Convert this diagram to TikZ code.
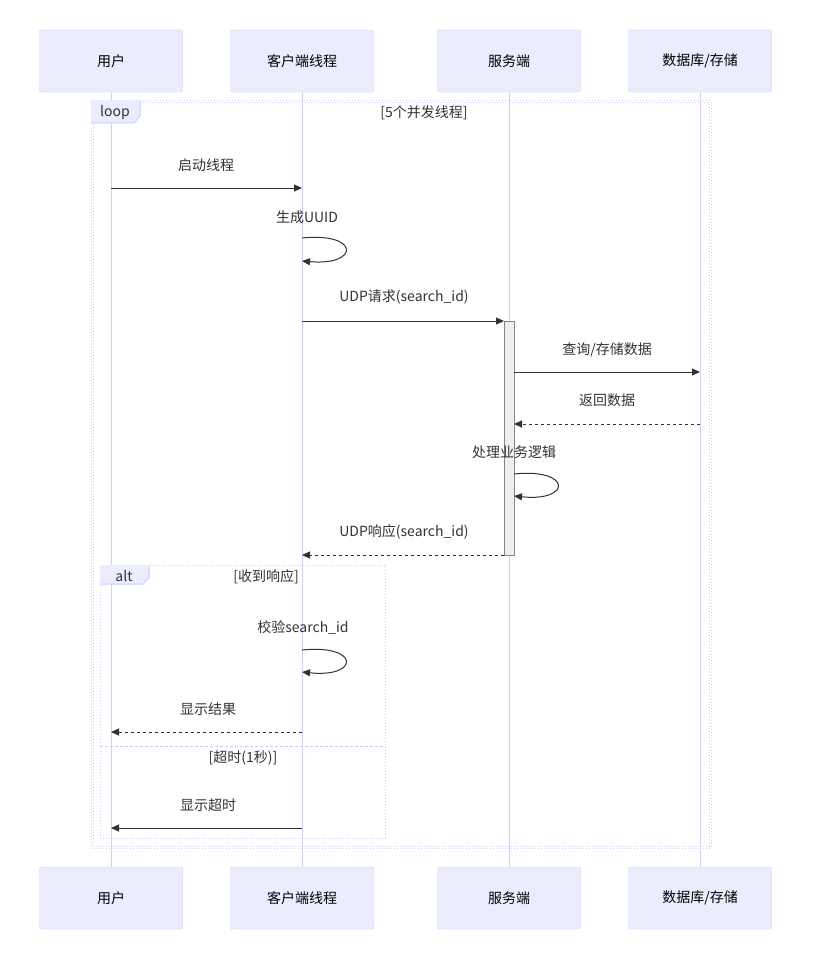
\documentclass[tikz,border=0pt]{standalone}
\usepackage{fontspec}
\setmainfont{Noto Sans CJK SC}
\usetikzlibrary{arrows.meta}
\definecolor{actfill}{HTML}{ECECFF}
\definecolor{actline}{HTML}{CCCCFF}
\definecolor{life}{HTML}{D6D0F0}
\definecolor{ink}{HTML}{333333}
\begin{document}
\begin{tikzpicture}[x=1pt,y=-1pt,
 actor/.style={draw=actline,fill=actfill,minimum width=143pt,minimum height=62pt,rounded corners=2pt,font=\fontsize{14}{16}\selectfont,text=black},
 lbl/.style={font=\fontsize{14}{16}\selectfont,text=ink},
 msg/.style={draw=ink,line width=1pt,-{Triangle[length=8pt,width=7pt]}},
 ret/.style={msg,dash pattern=on 3pt off 3pt},
 frame/.style={draw=actline,line width=1pt,dotted},
 lifel/.style={draw=life,line width=1pt}]
\useasboundingbox[fill=white](0,0) rectangle (814,955);
% lifelines
\foreach \n/\x in {u/111,c/302,s/509,d/700}{
 \coordinate (\n t) at (\x,92); \coordinate (\n b) at (\x,867);
 \draw[lifel] (\n t)--(\n b);}
\foreach \n/\x/\t in {u/111/{用户},c/302/{客户端线程},s/509/{服务端},d/700/{数据库/存储}}{
 \node[actor] (\n A) at (\x,61) {\t};
 \node[actor] (\n B) at (\x,898) {\t};}
% loop frame
\draw[frame] (91,101) rectangle (711,848);
\draw[frame] (93,103) rectangle (709,846);
\fill[actfill] (91,101) -- (140,101) -- (140,116) -- (134,123) -- (91,123) -- cycle;
\draw[actline,line width=1pt] (140,101) -- (140,116) -- (134,123) -- (91,123);
\node[lbl] (lp) at (115,113) {loop};
\node[lbl] (lpc) at (424,113) {[5个并发线程]};
% activation
\node[draw=ink!60,fill=ink!8,minimum width=10pt,minimum height=234pt,inner sep=0pt] (act) at (509,438) {};
% messages
\coordinate (m1a) at (111,188); \coordinate (m1b) at (302,188);
\draw[msg] (m1a)--(m1b); \node[lbl] (t1) at (206,165) {启动线程};
\node[lbl] (t2) at (307,217) {生成UUID};
\coordinate (s1a) at (302,238); \coordinate (s1b) at (302,261);
\draw[msg] (s1a) .. controls (360,232) and (360,266) .. (s1b);
\coordinate (m3a) at (302,321); \coordinate (m3b) at (504,321);
\draw[msg] (m3a)--(m3b); \node[lbl] (t3) at (404,297) {UDP请求(search\_id)};
\coordinate (m4a) at (514,372); \coordinate (m4b) at (700,372);
\draw[msg] (m4a)--(m4b); \node[lbl] (t4) at (607,350) {查询/存储数据};
\coordinate (m5a) at (700,424); \coordinate (m5b) at (514,424);
\draw[ret] (m5a)--(m5b); \node[lbl] (t5) at (607,400) {返回数据};
\node[lbl] (t6) at (514,452) {处理业务逻辑};
\coordinate (s2a) at (514,474); \coordinate (s2b) at (514,496);
\draw[msg] (s2a) .. controls (572,468) and (572,502) .. (s2b);
\coordinate (m7a) at (504,555); \coordinate (m7b) at (302,555);
\draw[ret] (m7a)--(m7b); \node[lbl] (t7) at (404,532) {UDP响应(search\_id)};
% alt frame
\draw[frame] (100,565) rectangle (385,838);
\fill[actfill] (100,565) -- (149,565) -- (149,578) -- (143,584) -- (100,584) -- cycle;
\draw[actline,line width=1pt] (149,565) -- (149,578) -- (143,584) -- (100,584);
\node[lbl] (al) at (124,576) {alt};
\node[lbl] (alc) at (266,577) {[收到响应]};
\draw[actline,line width=1pt,dash pattern=on 3pt off 2pt] (100,746)--(385,746);
\node[lbl] (alc2) at (243,758) {[超时(1秒)]};
\node[lbl] (t8) at (303,628) {校验search\_id};
\coordinate (s3a) at (302,650); \coordinate (s3b) at (302,672);
\draw[msg] (s3a) .. controls (360,644) and (360,678) .. (s3b);
\coordinate (m9a) at (302,732); \coordinate (m9b) at (111,732);
\draw[ret] (m9a)--(m9b); \node[lbl] (t9) at (208,709) {显示结果};
\coordinate (m10a) at (302,828); \coordinate (m10b) at (111,828);
\draw[msg] (m10a)--(m10b); \node[lbl] (t10) at (208,805) {显示超时};
\end{tikzpicture}
\end{document}
